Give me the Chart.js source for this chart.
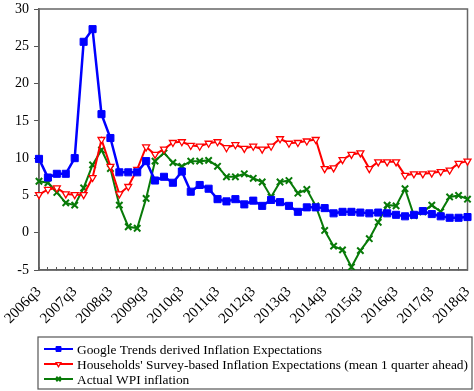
<!DOCTYPE html>
<html>
<head>
<meta charset="utf-8">
<script src="https://cdn.jsdelivr.net/npm/chart.js@4.4.1/dist/chart.umd.min.js"></script>
<style>
  html, body { margin: 0; padding: 0; background: #fff; }
  #wrap { width: 474px; height: 391px; position: relative; }
</style>
</head>
<body>
<div id="wrap"><canvas id="inflChart"></canvas></div>
<script>
const quarters = [
  '2006q3','2006q4','2007q1','2007q2','2007q3','2007q4','2008q1','2008q2','2008q3','2008q4',
  '2009q1','2009q2','2009q3','2009q4','2010q1','2010q2','2010q3','2010q4','2011q1','2011q2',
  '2011q3','2011q4','2012q1','2012q2','2012q3','2012q4','2013q1','2013q2','2013q3','2013q4',
  '2014q1','2014q2','2014q3','2014q4','2015q1','2015q2','2015q3','2015q4','2016q1','2016q2',
  '2016q3','2016q4','2017q1','2017q2','2017q3','2017q4','2018q1','2018q2','2018q3'
];
const googleTrends = [
  9.9, 7.4, 7.9, 7.9, 10.0, 25.6, 27.3, 15.9, 12.7, 8.1,
  8.1, 8.1, 9.6, 7.0, 7.5, 6.7, 8.2, 5.5, 6.4, 5.9,
  4.5, 4.2, 4.5, 3.8, 4.3, 3.6, 4.4, 4.1, 3.6, 2.8,
  3.4, 3.4, 3.3, 2.6, 2.8, 2.8, 2.7, 2.6, 2.7, 2.6,
  2.4, 2.2, 2.4, 2.9, 2.5, 2.2, 2.0, 2.0, 2.1
];
const householdSurvey = [
  5.1, 5.8, 6.0, 5.2, 5.1, 5.1, 7.4, 12.5, 8.9, 5.2,
  6.2, 8.5, 11.5, 10.5, 11.2, 12.1, 12.2, 11.7, 11.6, 12.0,
  12.2, 11.4, 11.8, 11.3, 11.6, 11.2, 11.6, 12.6, 12.0, 12.1,
  12.3, 12.5, 8.6, 8.7, 9.8, 10.5, 10.7, 8.6, 9.5, 9.5,
  9.5, 7.7, 7.9, 7.9, 8.0, 8.2, 8.4, 9.3, 9.6
];
const actualWPI = [
  6.9, 6.7, 5.4, 4.0, 3.7, 6.0, 9.1, 11.1, 8.6, 3.7,
  0.8, 0.6, 4.6, 9.6, 10.7, 9.4, 8.9, 9.6, 9.6, 9.7,
  8.9, 7.5, 7.5, 7.9, 7.3, 6.8, 4.8, 6.8, 7.0, 5.3,
  5.8, 3.6, 0.3, -1.8, -2.3, -4.6, -2.4, -0.8, 1.4, 3.7,
  3.6, 5.9, 2.3, 2.8, 3.7, 2.8, 4.8, 5.0, 4.5
];
const yTicks = [-5, 0, 5, 10, 15, 20, 25, 30];
const seriesNames = [
  'Google Trends derived Inflation Expectations',
  "Households' Survey-based Inflation Expectations (mean 1 quarter ahead)",
  'Actual WPI inflation'
];

const serif = '"Liberation Serif", "DejaVu Serif", serif';

// spaced-out lettering for the date labels only (x scale is drawn after the datasets, z: 1)
const spacing = {
  id: 'spacing',
  beforeDraw(chart) { chart.ctx.letterSpacing = '0px'; },
  afterDatasetsDraw(chart) { chart.ctx.letterSpacing = '1.5px'; },
  afterDraw(chart) { chart.ctx.letterSpacing = '0px'; }
};

// frame round the plot area (top and right edges)
const framePlugin = {
  id: 'frame',
  beforeDatasetsDraw(chart) {
    const a = chart.chartArea, c = chart.ctx;
    c.save();
    c.strokeStyle = '#666';
    c.lineWidth = 1.5;
    c.strokeRect(a.left, a.top, a.right - a.left, a.bottom - a.top);
    c.restore();
  }
};

// boxed legend with line + marker samples
const boxLegend = {
  id: 'boxLegend',
  afterDraw(chart) {
    const c = chart.ctx;
    const x0 = 38, y0 = 337, w = 434, h = 52;
    c.save();
    c.letterSpacing = '0px';
    c.fillStyle = '#fff';
    c.fillRect(x0, y0, w, h);
    c.strokeStyle = '#555';
    c.lineWidth = 1.2;
    c.strokeRect(x0, y0, w, h);
    c.font = '13.4px ' + serif;
    c.textBaseline = 'middle';
    chart.data.datasets.forEach((ds, i) => {
      const y = y0 + 12 + i * 15;
      c.strokeStyle = ds.borderColor;
      c.lineWidth = 2;
      c.beginPath();
      c.moveTo(x0 + 6, y);
      c.lineTo(x0 + 35, y);
      c.stroke();
      c.fillStyle = ds.pointBackgroundColor || ds.borderColor;
      c.strokeStyle = ds.pointBorderColor;
      c.lineWidth = ds.pointBorderWidth;
      Chart.helpers.drawPoint(c, {
        pointStyle: ds.pointStyle,
        rotation: ds.pointRotation || 0,
        radius: ds.pointRadius * 0.7,
        borderWidth: ds.pointBorderWidth
      }, x0 + 20.5, y);
      c.fillStyle = '#000';
      c.fillText(ds.label, x0 + 39, y + 1);
    });
    c.restore();
  }
};

const ctx = document.getElementById('inflChart').getContext('2d');
const chart = new Chart(ctx, {
  type: 'line',
  data: {
    labels: quarters,
    datasets: [{
      label: seriesNames[0],
      data: googleTrends,
      borderColor: '#0000ff',
      backgroundColor: '#0000ff',
      borderWidth: 2.5,
      pointStyle: 'rect',
      pointRadius: 5,
      pointBackgroundColor: '#0000ff',
      pointBorderColor: '#0000ff',
      pointBorderWidth: 1,
      tension: 0
    }, {
      label: seriesNames[1],
      data: householdSurvey,
      borderColor: '#ff0000',
      backgroundColor: '#ffffff',
      borderWidth: 2,
      pointStyle: 'triangle',
      pointRotation: 180,
      pointRadius: 4,
      pointBackgroundColor: '#ffffff',
      pointBorderColor: '#ff0000',
      pointBorderWidth: 1.3,
      tension: 0
    }, {
      label: seriesNames[2],
      data: actualWPI,
      borderColor: '#087a08',
      backgroundColor: '#087a08',
      borderWidth: 2,
      pointStyle: 'crossRot',
      pointRadius: 4.5,
      pointBorderColor: '#087a08',
      pointBorderWidth: 2,
      tension: 0
    }]
  },
  options: {
    responsive: true,
    maintainAspectRatio: false,
    animation: false,
    layout: { padding: { top: 9, right: 2, left: 0, bottom: 61 } },
    plugins: {
      legend: { display: false },
      tooltip: { enabled: false }
    },
    scales: {
      x: {
        z: 1,
        offset: false,
        border: { color: '#555', width: 1.5 },
        grid: { drawOnChartArea: false, drawTicks: true, tickLength: -3, color: '#555' },
        ticks: {
          autoSkip: false,
          minRotation: 45,
          maxRotation: 45,
          padding: 16,
          color: '#000',
          font: { family: serif, size: 15 },
          callback: function(val, idx) {
            return idx % 4 === 0 ? quarters[idx] : '';
          }
        },
        afterFit(scale) {
          scale.height = 60;
          scale.paddingLeft = 0;
          scale.paddingRight = 0;
        }
      },
      y: {
        min: -5,
        max: 30,
        border: { color: '#555', width: 1.5 },
        grid: { drawOnChartArea: false, drawTicks: true, tickLength: 5, color: '#555' },
        afterBuildTicks(scale) { scale.ticks = yTicks.map(v => ({ value: v })); },
        ticks: {
          padding: 5,
          color: '#000',
          font: { family: serif, size: 14 }
        },
        afterFit(scale) {
          scale.width = 39;
          scale.paddingTop = 0;
          scale.paddingBottom = 0;
        }
      }
    }
  },
  plugins: [spacing, framePlugin, boxLegend]
});
</script>
</body>
</html>
